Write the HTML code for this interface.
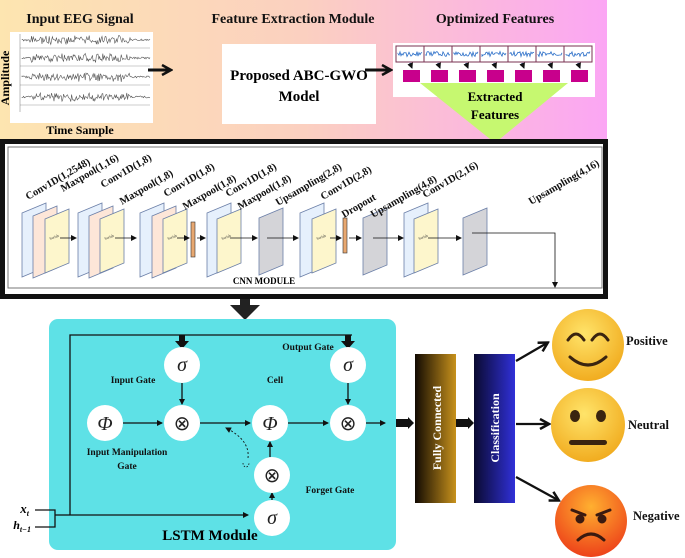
<!DOCTYPE html>
<html><head><meta charset="utf-8"><style>
html,body{margin:0;padding:0;background:#fff;}
svg{display:block;font-family:"Liberation Serif",serif;}
</style></head><body>
<svg id="s" width="685" height="558" viewBox="0 0 685 558" xmlns="http://www.w3.org/2000/svg">
<defs>
<linearGradient id="bg" x1="0" x2="1" y1="0" y2="0">
<stop offset="0" stop-color="#fde5b0"/><stop offset="0.5" stop-color="#fbd0c0"/><stop offset="1" stop-color="#fba6f4"/>
</linearGradient>
<linearGradient id="fc" x1="0" x2="1"><stop offset="0" stop-color="#120a02"/><stop offset="1" stop-color="#c8921c"/></linearGradient>
<linearGradient id="cl" x1="0" x2="1"><stop offset="0" stop-color="#0a0a30"/><stop offset="1" stop-color="#3030d8"/></linearGradient>
<radialGradient id="yel" cx="0.45" cy="0.35" r="0.7"><stop offset="0" stop-color="#ffe46a"/><stop offset="1" stop-color="#f0a81a"/></radialGradient>
<radialGradient id="red" cx="0.5" cy="0.3" r="0.75"><stop offset="0" stop-color="#ffb030"/><stop offset="1" stop-color="#ec3a18"/></radialGradient>
<marker id="a" markerWidth="6" markerHeight="6" refX="5" refY="3" orient="auto" markerUnits="userSpaceOnUse"><path d="M0,0L6,3L0,6z" fill="#111"/></marker>
<marker id="b" markerWidth="12" markerHeight="12" refX="9" refY="6" orient="auto" markerUnits="userSpaceOnUse"><path d="M1,1L10,6L1,11" fill="none" stroke="#111" stroke-width="2.5"/></marker>
</defs>
<rect x="0" y="0" width="607" height="140" fill="url(#bg)"/>
<g font-weight="bold" font-size="14" text-anchor="middle" fill="#111">
<text x="80" y="23">Input EEG Signal</text>
<text x="293" y="23">Feature Extraction Module</text>
<text x="495" y="23">Optimized Features</text>
</g>
<rect x="10" y="32" width="143" height="91" fill="#fff"/>
<g id="eeg" stroke="#555" stroke-width="0.6" fill="none"></g>
<text x="0" y="0" transform="translate(9,78) rotate(-90)" font-size="12" font-weight="bold" text-anchor="middle">Amplitude</text>
<text x="80" y="134" font-size="12" font-weight="bold" text-anchor="middle">Time Sample</text>
<line x1="148" y1="70" x2="170" y2="70" stroke="#111" stroke-width="3" marker-end="url(#b)"/>
<rect x="222" y="44" width="154" height="80" fill="#fff"/>
<text x="299" y="80" font-size="15" font-weight="bold" text-anchor="middle">Proposed ABC-GWO</text>
<text x="299" y="101" font-size="15" font-weight="bold" text-anchor="middle">Model</text>
<line x1="365" y1="70" x2="390" y2="70" stroke="#111" stroke-width="3" marker-end="url(#b)"/>
<rect x="393" y="43" width="202" height="54" fill="#fff"/>
<g id="opt"></g>
<polygon points="420,83 568,83 495,143" fill="#c6f870"/>
<text x="495" y="101" font-size="13" font-weight="bold" text-anchor="middle">Extracted</text>
<text x="495" y="119" font-size="13" font-weight="bold" text-anchor="middle">Features</text>
<!-- CNN -->
<rect x="2.5" y="141.5" width="603" height="155" fill="#fff" stroke="#111" stroke-width="5"/>
<rect x="8" y="147" width="594" height="141" fill="none" stroke="#777" stroke-width="1"/>
<g id="cnn"></g>
<text x="264" y="284" font-size="9" font-weight="bold" text-anchor="middle">CNN MODULE</text>
<!-- big arrow -->
<rect x="240" y="299" width="10" height="8" fill="#222"/>
<polygon points="230,305 260,305 245,320" fill="#222"/>
<!-- LSTM -->
<rect x="49" y="319" width="347" height="231" rx="9" fill="#5ee1e6"/>
<g stroke="#111" stroke-width="1.3" fill="none">
<polyline points="70,515 70,335 352,335"/>
<line x1="70" y1="515" x2="248" y2="515" marker-end="url(#a)"/>
<line x1="123" y1="423" x2="162" y2="423" marker-end="url(#a)"/>
<line x1="200" y1="423" x2="250" y2="423" marker-end="url(#a)"/>
<line x1="288" y1="423" x2="328" y2="423" marker-end="url(#a)"/>
<line x1="366" y1="423" x2="385" y2="423" marker-end="url(#a)"/>
<line x1="182" y1="383" x2="182" y2="404" marker-end="url(#a)"/>
<line x1="348" y1="383" x2="348" y2="404" marker-end="url(#a)"/>
<line x1="270" y1="457" x2="270" y2="442" marker-end="url(#a)"/>
<line x1="272" y1="500" x2="272" y2="493" marker-end="url(#a)"/>
<path d="M248,458 Q250,440 226,428" stroke-dasharray="2,2" stroke-width="0.9" marker-end="url(#a)"/>
<path d="M243,463 a3,4 0 1 0 6,0" stroke-dasharray="1.5,1.5" stroke-width="0.8"/>
<polyline points="35,510 55,510 55,527 35,527"/>
<line x1="55" y1="515" x2="70" y2="515"/>
</g>
<rect x="179" y="335" width="6" height="7" fill="#111"/><polygon points="175,341 189,341 182,349" fill="#111"/>
<rect x="345" y="335" width="6" height="7" fill="#111"/><polygon points="341,341 355,341 348,349" fill="#111"/>
<g fill="#fff">
<circle cx="182" cy="365" r="18"/><circle cx="182" cy="423" r="18"/><circle cx="105" cy="423" r="18"/>
<circle cx="270" cy="423" r="18"/><circle cx="348" cy="365" r="18"/><circle cx="348" cy="423" r="18"/>
<circle cx="272" cy="475" r="18"/><circle cx="272" cy="518" r="18"/>
</g>
<g font-size="20" font-style="italic" text-anchor="middle" fill="#222">
<text x="182" y="371">σ</text><text x="348" y="371">σ</text><text x="272" y="524">σ</text>
<text x="105" y="430">Φ</text><text x="270" y="430">Φ</text>
</g>
<g font-size="20" text-anchor="middle" fill="#222" font-family="DejaVu Sans">
<text x="182" y="430">⊗</text><text x="348" y="430">⊗</text><text x="272" y="482">⊗</text>
</g>
<g font-size="9.5" font-weight="bold" fill="#111" text-anchor="middle">
<text x="133" y="383">Input Gate</text>
<text x="275" y="383">Cell</text>
<text x="308" y="350">Output Gate</text>
<text x="127" y="455">Input Manipulation</text>
<text x="127" y="469">Gate</text>
<text x="330" y="493">Forget Gate</text>
</g>
<text x="210" y="540" font-size="15" font-weight="bold" text-anchor="middle">LSTM Module</text>
<text x="29" y="513" font-size="13" font-weight="bold" font-style="italic" text-anchor="end">x<tspan font-size="8" dy="3">t</tspan></text>
<text x="31" y="529" font-size="12" font-weight="bold" font-style="italic" text-anchor="end">h<tspan font-size="8" dy="3">t−1</tspan></text>
<!-- FC -->
<rect x="396" y="419" width="12" height="8" fill="#111"/><polygon points="408,417 414,423 408,429" fill="#111"/>
<rect x="415" y="354" width="41" height="149" fill="url(#fc)"/>
<rect x="456" y="419" width="12" height="8" fill="#111"/><polygon points="468,417 474,423 468,429" fill="#111"/>
<rect x="474" y="354" width="41" height="149" fill="url(#cl)"/>
<text transform="translate(441,428) rotate(-90)" font-size="12" font-weight="bold" fill="#fff" text-anchor="middle">Fully Connected</text>
<text transform="translate(499,428) rotate(-90)" font-size="12" font-weight="bold" fill="#fff" text-anchor="middle">Classification</text>
<g stroke="#111" stroke-width="2.3">
<line x1="516" y1="361" x2="547" y2="343" marker-end="url(#b)"/>
<line x1="516" y1="424" x2="548" y2="424" marker-end="url(#b)"/>
<line x1="516" y1="477" x2="558" y2="500" marker-end="url(#b)"/>
</g>
<circle cx="588" cy="345" r="36" fill="url(#yel)"/>
<g stroke="#3a2410" stroke-width="3" fill="none" stroke-linecap="round">
<path d="M568,340 q8,-12 16,0"/><path d="M592,340 q8,-12 16,0"/><path d="M570,357 q18,16 36,0"/>
</g>
<circle cx="588" cy="425" r="37" fill="url(#yel)"/>
<g fill="#3a2410"><ellipse cx="575" cy="416" rx="5" ry="6"/><ellipse cx="601" cy="416" rx="5" ry="6"/><rect x="569" y="440" width="38" height="5" rx="2.5"/></g>
<circle cx="591" cy="521" r="36" fill="url(#red)"/>
<g fill="#3a1a10" stroke="#3a1a10" stroke-width="3" stroke-linecap="round">
<line x1="572" y1="510" x2="585" y2="515"/><line x1="610" y1="510" x2="597" y2="515"/>
<circle cx="580" cy="519" r="3"/><circle cx="602" cy="519" r="3"/>
<path d="M578,540 q13,-12 26,0" fill="none"/>
</g>
<g font-size="12.5" font-weight="bold" fill="#111">
<text x="626" y="345">Positive</text><text x="628" y="429">Neutral</text><text x="633" y="520">Negative</text>
</g>
</svg>
<script>
var NS="http://www.w3.org/2000/svg";
function el(t,a,p){var e=document.createElementNS(NS,t);for(var k in a)e.setAttribute(k,a[k]);(p||document.getElementById('s')).appendChild(e);return e;}
var seed=3;function r(){seed=(seed*9301+49297)%233280;return seed/233280;}
var g=document.getElementById('eeg');
[40,58,77,97].forEach(function(y,i){var d="M22,"+y;for(var x=22;x<150;x+=0.8){var amp=(x>30&&x<130)?(2+3*r()):1;d+="L"+x.toFixed(1)+","+(y+(r()-0.5)*amp*2).toFixed(1);}el('path',{d:d},g);el('line',{x1:20,y1:y+8,x2:150,y2:y+8,'stroke-width':0.3},g);});
el('line',{x1:20,y1:34,x2:20,y2:112,'stroke-width':0.4},g);
var o=document.getElementById('opt');
el('rect',{x:396,y:46,width:196,height:16,fill:'#fff',stroke:'#7a3050','stroke-width':1},o);
for(var i=0;i<7;i++){var x=396+i*28;el('line',{x1:x,y1:46,x2:x,y2:62,stroke:'#7a3050','stroke-width':1},o);
var d="M"+(x+2)+",54";for(var k=2;k<27;k+=1)d+="L"+(x+k)+","+(54+(r()-0.5)*5).toFixed(1);el('path',{d:d,stroke:'#2a6ec8','stroke-width':0.8,fill:'none'},o);
el('line',{x1:x+14,y1:63,x2:x+16,y2:68,stroke:'#2a50b0','stroke-width':1.5,'marker-end':'url(#a)'},o);
el('rect',{x:x+7,y:70,width:17,height:12,fill:'#c8008c'},o);}
var c=document.getElementById('cnn');
function plate(x,top,h,fill,stroke){el('polygon',{points:x+","+(top+10)+" "+(x+24)+","+top+" "+(x+24)+","+(top+h)+" "+x+","+(top+h+10),fill:fill,stroke:stroke||'#6b7fa8','stroke-width':0.8},c);}
function grp(bx,px,yx){plate(bx,203,64,'#e6f0fc');if(px)plate(px,206,62,'#fde6d8');plate(yx,209,54,'#fdf6cc');el('text',{x:yx+5,y:240,'font-size':4,fill:'#333',transform:'rotate(-20 '+(yx+5)+' 240)'},c).textContent='Swish';}
grp(22,33,45);grp(78,89,100);grp(140,152,163);grp(207,0,217);grp(300,0,312);grp(404,0,414);
[[259],[363],[463]].forEach(function(a){plate(a[0],208,57,'#d4d4d8','#6b7fa8');});
el('rect',{x:191,y:222,width:4,height:35,fill:'#e8a870',stroke:'#333','stroke-width':0.6},c);
el('rect',{x:343,y:218,width:4,height:35,fill:'#e8a870',stroke:'#333','stroke-width':0.6},c);
[[60,76],[115,136],[177,189],[197,205],[230,257],[267,298],[330,341],[349,361],[373,403],[428,461]].forEach(function(a){el('line',{x1:a[0],y1:238,x2:a[1],y2:238,stroke:'#111','stroke-width':0.8,'marker-end':'url(#a)'},c);});
el('polyline',{points:"472,233 555,233 555,287",fill:'none',stroke:'#111','stroke-width':0.8,'marker-end':'url(#a)'},c);
[["Conv1D(1,2548)",28,200],["Maxpool(1,16)",63,192],["Conv1D(1,8)",103,188],["Maxpool(1,8)",122,205],["Conv1D(1,8)",166,197],["Maxpool(1,8)",185,210],["Conv1D(1,8)",228,197],["Maxpool(1,8)",240,210],["Upsampling(2,8)",278,206],["Conv1D(2,8)",323,200],["Dropout",344,218],["Upsampling(4,8)",373,218],["Conv1D(2,16)",425,198],["Upsampling(4,16)",531,205]].forEach(function(a){el('text',{x:a[1],y:a[2],'font-size':10.5,'font-weight':'bold',fill:'#111',transform:'rotate(-30 '+a[1]+' '+a[2]+')'},c).textContent=a[0];});
</script>
</body></html>
